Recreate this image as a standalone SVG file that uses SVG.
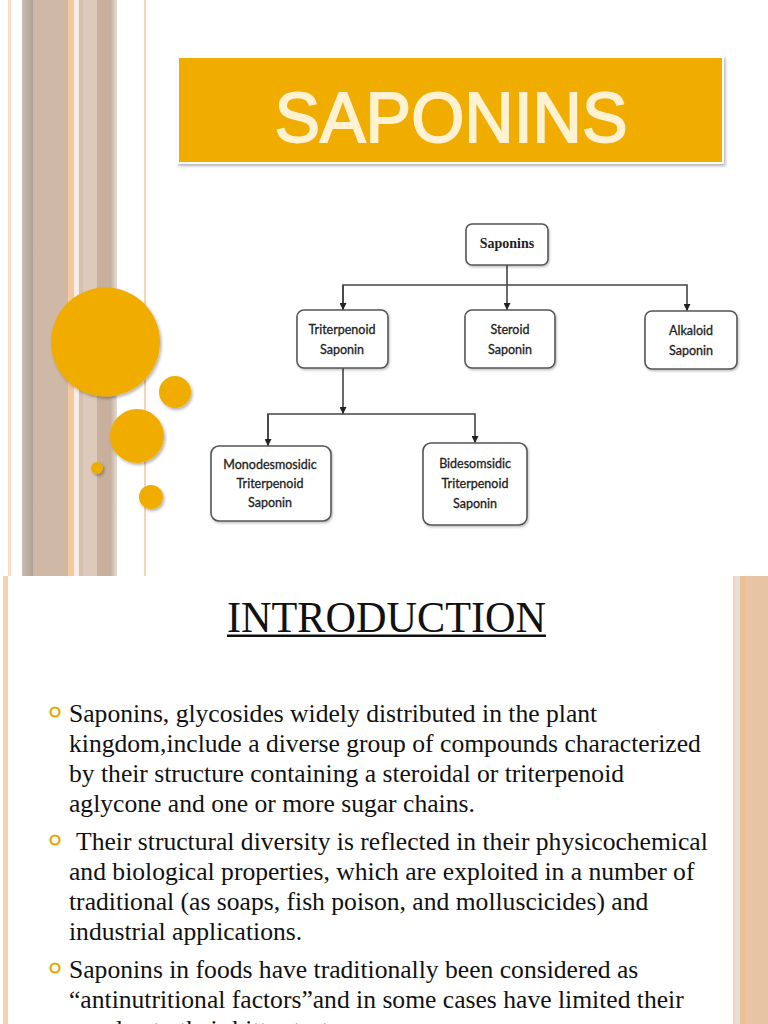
<svg xmlns="http://www.w3.org/2000/svg" width="768" height="1024" viewBox="0 0 768 1024">
<defs>
<filter id="sh" x="-20%" y="-20%" width="150%" height="150%">
<feDropShadow dx="1.5" dy="2" stdDeviation="1.5" flood-color="#000" flood-opacity="0.3"/>
</filter>
<filter id="bsh" x="-10%" y="-10%" width="130%" height="130%">
<feDropShadow dx="1" dy="1.5" stdDeviation="1" flood-color="#000" flood-opacity="0.25"/>
</filter>
<linearGradient id="g1" x1="0" x2="1">
<stop offset="0" stop-color="#c8bcb2"/><stop offset="1" stop-color="#b0a094"/>
</linearGradient>
<linearGradient id="g2" x1="0" x2="1">
<stop offset="0" stop-color="#c4ac98"/><stop offset="1" stop-color="#e4dcd8"/>
</linearGradient>
<marker id="ah" viewBox="0 0 10 10" refX="10" refY="5" markerWidth="7" markerHeight="7" orient="auto" markerUnits="userSpaceOnUse">
<path d="M0,0 L10,5 L0,10 z" fill="#222"/>
</marker>
<style>
.node rect{fill:#fff;stroke:#555;stroke-width:1.6}
.nt{font-family:Lato,"Open Sans",sans-serif;font-size:12.5px;fill:#222;stroke:#222;stroke-width:0.3;text-anchor:middle}
.nb{font-family:"Liberation Serif",serif;font-size:14px;font-weight:bold;fill:#222;text-anchor:middle}
.conn{fill:none;stroke:#444;stroke-width:1.6}
.body{font-family:"Liberation Serif",serif;font-size:25.6px;fill:#111}
.bul{fill:none;stroke:#e8a400;stroke-width:2.2}
</style>
</defs>
<rect width="768" height="1024" fill="#fff"/>
<!-- top slide left stripes -->
<g id="stripes-top">
<rect x="8" y="0" width="3" height="576" fill="#fbe0c6"/>
<rect x="22" y="0" width="11" height="576" fill="url(#g1)"/>
<rect x="33" y="0" width="35" height="576" fill="#d0b8a6"/>
<rect x="68" y="0" width="6" height="576" fill="#f4c9a0"/>
<rect x="74" y="0" width="5" height="576" fill="#f6eee6"/>
<rect x="79" y="0" width="4" height="576" fill="#d6c0ac"/>
<rect x="83" y="0" width="14" height="576" fill="#decabb"/>
<rect x="97" y="0" width="13" height="576" fill="#c8b09c"/>
<rect x="110" y="0" width="7" height="576" fill="url(#g2)"/>
<rect x="144" y="0" width="2" height="576" fill="#f6d4b6"/>
</g>
<g id="circles" fill="#f0ad00" filter="url(#sh)">
<circle cx="105.5" cy="342" r="54.5"/>
<circle cx="175" cy="392" r="16"/>
<circle cx="137" cy="436" r="27"/>
<circle cx="97" cy="468" r="6"/>
<circle cx="151" cy="497" r="12"/>
</g>
<g id="title">
<rect x="177" y="56" width="547" height="108" fill="#fff" filter="url(#sh)"/>
<rect x="179" y="58" width="543" height="104" fill="#f0ad00"/>
<text x="451" y="142" font-family="Liberation Sans,Arial,sans-serif" font-size="70" fill="#fff2d2" stroke="#fff2d2" stroke-width="1.8" text-anchor="middle" textLength="353" lengthAdjust="spacingAndGlyphs">SAPONINS</text>
</g>
<!-- diagram -->
<g id="connectors">
<path class="conn" d="M507,265 V310" marker-end="url(#ah)"/>
<path class="conn" d="M343,310 V285 H687 V311" marker-end="url(#ah)"/>
<path class="conn" d="M343,285 V310" marker-end="url(#ah)"/>
<path class="conn" d="M343,368 V414" marker-end="url(#ah)"/>
<path class="conn" d="M268,446 V414 H475 V443" marker-end="url(#ah)"/>
<path class="conn" d="M268,414 V446" marker-end="url(#ah)"/>
</g>
<g id="n-saponins" class="node">
<rect x="466" y="224" width="82" height="41" rx="6" filter="url(#bsh)"/>
<text class="nb" x="507" y="248">Saponins</text>
</g>
<g id="n-triterpenoid" class="node">
<rect x="297" y="310" width="91" height="58" rx="7" filter="url(#bsh)"/>
<text class="nt" x="342" y="334">Triterpenoid</text>
<text class="nt" x="342" y="354">Saponin</text>
</g>
<g id="n-steroid" class="node">
<rect x="465" y="310" width="90" height="58" rx="7" filter="url(#bsh)"/>
<text class="nt" x="510" y="334">Steroid</text>
<text class="nt" x="510" y="354">Saponin</text>
</g>
<g id="n-alkaloid" class="node">
<rect x="645" y="311" width="92" height="58" rx="7" filter="url(#bsh)"/>
<text class="nt" x="691" y="335">Alkaloid</text>
<text class="nt" x="691" y="355">Saponin</text>
</g>
<g id="n-mono" class="node">
<rect x="211" y="446" width="120" height="75" rx="8" filter="url(#bsh)"/>
<text class="nt" x="270" y="469">Monodesmosidic</text>
<text class="nt" x="270" y="488">Triterpenoid</text>
<text class="nt" x="270" y="507">Saponin</text>
</g>
<g id="n-bides" class="node">
<rect x="423" y="443" width="104" height="82" rx="8" filter="url(#bsh)"/>
<text class="nt" x="475" y="468">Bidesomsidic</text>
<text class="nt" x="475" y="488">Triterpenoid</text>
<text class="nt" x="475" y="508">Saponin</text>
</g>
<!-- bottom slide -->
<g id="slide2">
<rect x="0" y="576" width="768" height="448" fill="#fff"/>
<rect x="3" y="576" width="5" height="448" fill="#f5d0ac"/>
<rect x="733" y="576" width="3" height="448" fill="#f6d6b4"/>
<rect x="736" y="576" width="4" height="448" fill="#e6e0da"/>
<rect x="740" y="576" width="5" height="448" fill="#ecc092"/>
<rect x="745" y="576" width="23" height="448" fill="#e6c4a4"/>
</g>
<g id="intro">
<text x="227" y="632" font-family="Liberation Serif,serif" font-size="44" fill="#111" textLength="319" lengthAdjust="spacingAndGlyphs">INTRODUCTION</text>
<rect x="227" y="634.5" width="319" height="2.5" fill="#111"/>
</g>
<g id="bullets">
<circle class="bul" cx="55" cy="712" r="4.5"/>
<circle class="bul" cx="55" cy="840" r="4.5"/>
<circle class="bul" cx="55" cy="968" r="4.5"/>
</g>
<g id="bodytext" class="body">
<text x="69" y="722">Saponins, glycosides widely distributed in the plant</text>
<text x="69" y="752">kingdom,include a diverse group of compounds characterized</text>
<text x="69" y="782">by their structure containing a steroidal or triterpenoid</text>
<text x="69" y="812">aglycone and one or more sugar chains.</text>
<text x="76" y="850">Their structural diversity is reflected in their physicochemical</text>
<text x="69" y="880">and biological properties, which are exploited in a number of</text>
<text x="69" y="910">traditional (as soaps, fish poison, and molluscicides) and</text>
<text x="69" y="940">industrial applications.</text>
<text x="69" y="978">Saponins in foods have traditionally been considered as</text>
<text x="69" y="1008">“antinutritional factors”and in some cases have limited their</text>
<text x="69" y="1038">use due to their bitter taste.</text>
</g>
</svg>
